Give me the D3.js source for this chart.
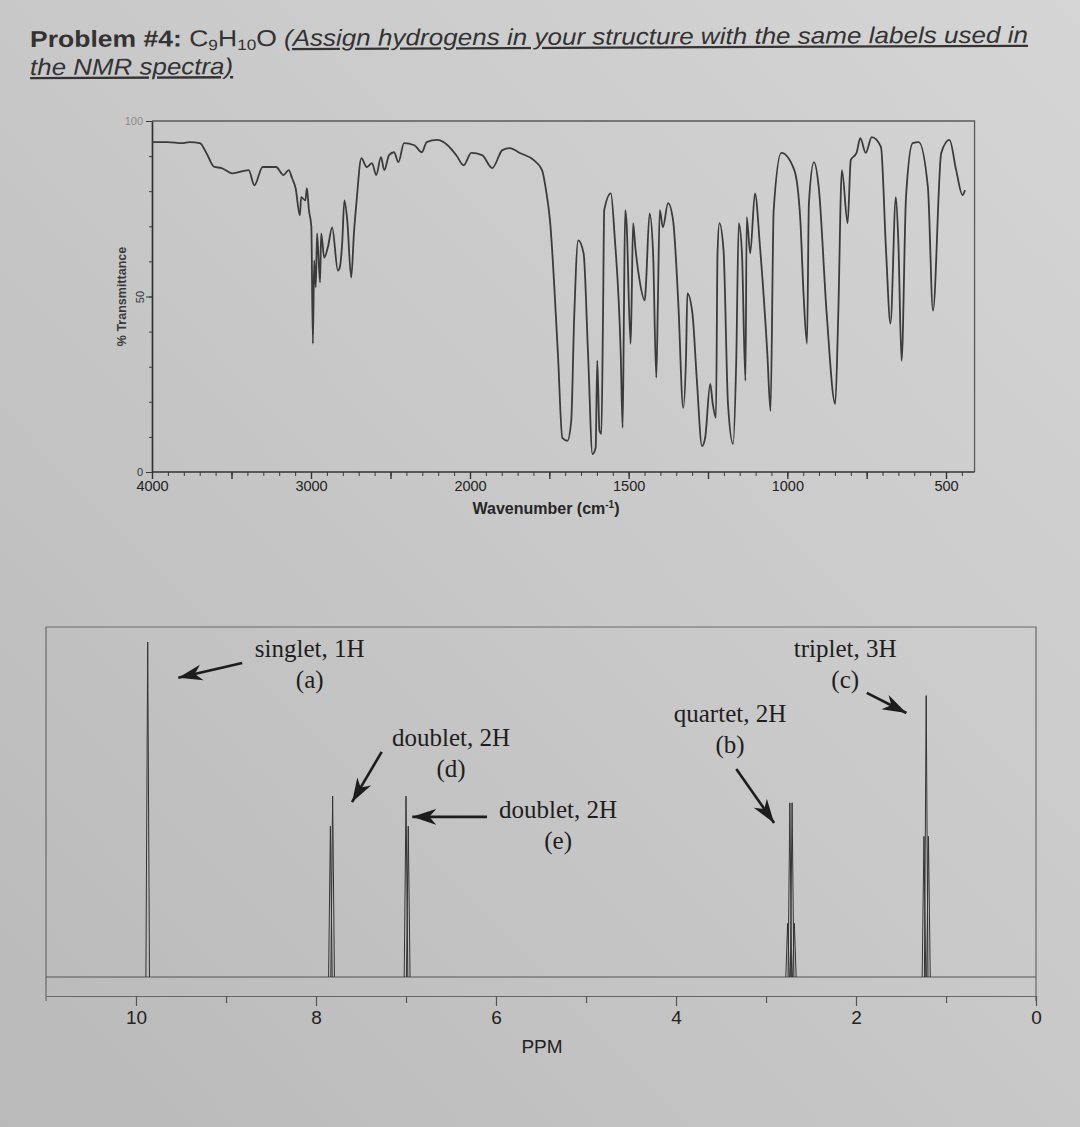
<!DOCTYPE html>
<html>
<head>
<meta charset="utf-8">
<script src="https://cdn.jsdelivr.net/npm/d3@7"></script>
<style>
  body { margin: 0; background: #c8c8c8; }
  svg { display: block; }
</style>
</head>
<body>
<svg id="page" width="1080" height="1127"></svg>
<script>
// IR spectrum: wavenumber (cm-1) and % transmittance
let irWavenumber = [
  4000, 3900, 3810, 3765, 3699, 3658, 3608, 3562, 3495, 3392, 3356, 3304, 3220, 3173, 3140, 3119,
  3097, 3070, 3062, 3035, 3026, 3013, 2998, 2988, 2980, 2970, 2962, 2943, 2936, 2917, 2894, 2867,
  2831, 2819, 2804, 2790, 2772, 2747, 2730, 2713, 2683, 2650, 2616, 2590, 2560, 2539, 2509, 2478,
  2450, 2415, 2350, 2303, 2272, 2208, 2141, 2087, 2040, 1996, 1962, 1930, 1898, 1875, 1843, 1800,
  1773, 1760, 1748, 1723, 1709, 1693, 1681, 1672, 1659, 1642, 1628, 1614, 1604, 1599, 1592, 1586,
  1581, 1577, 1556, 1544, 1525, 1519, 1515, 1511, 1507, 1494, 1491, 1486, 1479, 1467, 1449, 1446,
  1434, 1423, 1413, 1408, 1402, 1392, 1376, 1360, 1344, 1328, 1319, 1315, 1299, 1285, 1269, 1259,
  1243, 1235, 1225, 1220, 1214, 1201, 1187, 1171, 1161, 1153, 1143, 1132, 1128, 1117, 1102, 1086,
  1063, 1053, 1043, 1019, 978, 959, 949, 938, 932, 916, 901, 876, 849, 840, 828, 810,
  800, 782, 770, 753, 734, 705, 689, 675, 658, 650, 640, 626, 605, 586, 557, 541,
  515, 489, 468, 448, 440
];
let irTransmittance = [
  94, 94, 93.7, 94, 93.7, 90.9, 86.9, 86.6, 85.1, 86, 81.7, 86.9, 86.9, 84.6, 86, 83.7,
  80.9, 73.1, 78.3, 77.4, 80.9, 74.6, 70, 36.6, 60.3, 52.6, 68, 54, 68, 61.1, 64, 69.7,
  57.4, 58.3, 65.1, 77.4, 71.7, 55.4, 68, 77.4, 89.4, 86.9, 88, 84.6, 89.7, 86, 90.3, 91.1,
  88.3, 93.7, 93.1, 91.1, 94, 94.6, 93.1, 90.3, 87.4, 90.9, 90.3, 86.6, 91.7, 92.3, 90.9, 88.9,
  86, 80, 71.7, 33.7, 9.7, 8.9, 14.6, 43.1, 66, 62.3, 33.7, 5.1, 6.9, 31.7, 11.7, 10.9,
  43.1, 74.6, 79.4, 66.9, 33.7, 12.6, 45.1, 74.6, 71.7, 36.6, 46.9, 70.9, 64, 55.4, 48.9, 52.6,
  73.7, 62.3, 26.9, 48, 74.6, 69.7, 76.6, 71.7, 48.9, 18.3, 33.7, 50.9, 45.1, 26, 7.4, 9.7,
  25.1, 19.4, 15.4, 62.3, 70.9, 63.1, 19.4, 8, 31.7, 70.9, 62.3, 26, 72.6, 62.3, 79.4, 64,
  33.7, 17.4, 74.6, 90.9, 86, 71.7, 50.9, 36.6, 76.6, 88.3, 81.1, 45.1, 19.4, 43.1, 86, 70.9,
  88.9, 90.9, 95.1, 90.9, 95.4, 92.6, 63.1, 42.3, 78.3, 65.1, 31.7, 78.3, 93.7, 94, 81.1, 46,
  90.9, 94.6, 86, 78.9, 80.3
];
let irXTickLabels = [4000, 3000, 2000, 1500, 1000, 500];
let irYTickLabels = [0, 50, 100];

// 1H NMR lines: shift (ppm) and relative height
let nmrShift = [9.87, 7.84, 7.815, 7.0, 6.975, 2.76, 2.735, 2.71, 2.685, 1.245, 1.22, 1.195];
let nmrHeight = [100, 45, 54, 54, 45, 16, 52, 52, 16, 42, 84, 42];
let nmrTickLabels = [10, 8, 6, 4, 2, 0];

// peak annotations (anchor in ppm / height units)
let noteText = ["singlet, 1H", "doublet, 2H", "doublet, 2H", "quartet, 2H", "triplet, 3H"];
let noteLetter = ["(a)", "(d)", "(e)", "(b)", "(c)"];
let noteShift = [8.07, 6.5, 5.31, 3.4, 2.12];
let noteHeight = [95.5, 69, 47.5, 76.1, 95.5];
let arrowFrom = [[8.82, 93.7], [7.27, 67.2], [6.1, 47.8], [3.33, 62.1], [1.88, 84.8]];
let arrowTo = [[9.53, 89.3], [7.6, 52.2], [6.93, 47.8], [2.91, 46], [1.44, 78.8]];

let svg = d3.select("#page");

// paper background, lighter towards the top right
let defs = svg.append("defs");
let grad = defs.append("linearGradient").attr("id", "paper")
  .attr("x1", 0).attr("y1", 1).attr("x2", 1).attr("y2", 0);
grad.append("stop").attr("offset", "0%").attr("stop-color", "#b9b9b9");
grad.append("stop").attr("offset", "50%").attr("stop-color", "#c8c8c8");
grad.append("stop").attr("offset", "100%").attr("stop-color", "#d5d5d5");
svg.append("rect").attr("width", 1080).attr("height", 1127).attr("fill", "url(#paper)");

defs.append("marker").attr("id", "head")
  .attr("markerUnits", "userSpaceOnUse")
  .attr("viewBox", "-24 -9 26 18")
  .attr("markerWidth", 26).attr("markerHeight", 18)
  .attr("refX", 0).attr("refY", 0)
  .attr("orient", "auto")
  .append("path")
  .attr("d", "M0,0 L-24,-8 L-17,0 L-24,8 Z")
  .attr("fill", "#1c1c1c");

// ---- title ----
let title = svg.append("g")
  .attr("transform", "rotate(-0.25,30,47)")
  .attr("font-family", "'Liberation Sans', Arial, sans-serif")
  .attr("font-size", 23).attr("fill", "#333");
let t1 = title.append("text").attr("x", 30).attr("y", 47)
  .attr("textLength", 247).attr("lengthAdjust", "spacingAndGlyphs");
t1.append("tspan").attr("font-weight", "bold").text("Problem #4: ");
t1.append("tspan").text("C");
t1.append("tspan").attr("font-size", 15).attr("dy", 4).text("9");
t1.append("tspan").attr("dy", -4).text("H");
t1.append("tspan").attr("font-size", 15).attr("dy", 4).text("10");
t1.append("tspan").attr("dy", -4).text("O");
title.append("text").attr("x", 284).attr("y", 47)
  .attr("textLength", 744).attr("lengthAdjust", "spacingAndGlyphs")
  .attr("font-style", "italic").attr("text-decoration", "underline")
  .text("(Assign hydrogens in your structure with the same labels used in");
title.append("text").attr("x", 30).attr("y", 75)
  .attr("textLength", 203).attr("lengthAdjust", "spacingAndGlyphs")
  .attr("font-style", "italic").attr("text-decoration", "underline")
  .text("the NMR spectra)");

// ---- IR spectrum ----
let irX = d3.scaleLinear().domain([4000, 2000, 500]).range([152, 470, 946]);
let irY = d3.scaleLinear().domain([0, 100]).range([472, 121]);
let irRight = irX(410);

let ir = svg.append("g").attr("font-family", "'Liberation Sans', Arial, sans-serif");

ir.append("path")
  .attr("d", `M${irX(4000)},${irY(100)}H${irRight}V${irY(0)}`)
  .attr("fill", "none").attr("stroke", "#5a5a5a").attr("stroke-width", 1.3);

let irMinor = d3.range(4000, 2000, -100).concat(d3.range(2000, 440, -50));
let irMajor = d3.range(4000, 2000, -500).concat(d3.range(2000, 440, -250));

ir.append("g").attr("transform", `translate(0,${irY(0)})`)
  .call(d3.axisBottom(irX).tickValues(irMinor).tickSize(4).tickSizeOuter(0).tickFormat(""))
  .call(g => g.select(".domain").remove())
  .selectAll("line").attr("stroke", "#3a3a3a");

ir.append("g").attr("transform", `translate(0,${irY(0)})`)
  .call(d3.axisBottom(irX).tickValues(irMajor).tickSize(7).tickSizeOuter(0).tickPadding(2)
    .tickFormat(d => irXTickLabels.includes(d) ? d : ""))
  .call(g => g.select(".domain").attr("d", `M${irX(4000)},0H${irRight}`)
    .attr("stroke", "#333").attr("stroke-width", 1.7))
  .call(g => g.selectAll("line").attr("stroke", "#333").attr("stroke-width", 1.4))
  .call(g => g.selectAll("text").attr("font-size", 14.5).attr("fill", "#222")
    .attr("font-family", "'Liberation Sans', Arial, sans-serif"));

ir.append("g").attr("transform", `translate(${irX(4000)},0)`)
  .call(d3.axisLeft(irY).tickValues(d3.range(0, 101, 10)).tickSize(3).tickSizeOuter(0).tickFormat(""))
  .call(g => g.select(".domain").attr("stroke", "#333").attr("stroke-width", 1.7))
  .selectAll("line").attr("stroke", "#3a3a3a");

ir.append("g").attr("transform", `translate(${irX(4000)},0)`)
  .call(d3.axisLeft(irY).tickValues(irYTickLabels).tickSize(6).tickSizeOuter(0))
  .call(g => g.select(".domain").remove())
  .call(g => g.selectAll("line").attr("stroke", "#3a3a3a"))
  .call(g => g.selectAll("text").attr("font-size", 11).attr("fill", d => d === 100 ? "#8a8a8a" : "#333")
    .attr("font-family", "'Liberation Sans', Arial, sans-serif"))
  .call(g => g.selectAll(".tick").filter(d => d === 50).select("text")
    .attr("transform", "rotate(-90,-12,0)").attr("x", -12).attr("dy", "0.32em")
    .attr("text-anchor", "middle"));

ir.append("text")
  .attr("transform", `translate(126,${irY(50)}) rotate(-90)`)
  .attr("text-anchor", "middle").attr("font-size", 12.5).attr("font-weight", "bold")
  .attr("fill", "#3a3a3a").text("% Transmittance");

let wn = ir.append("text").attr("x", 546).attr("y", 514).attr("text-anchor", "middle")
  .attr("font-size", 16).attr("font-weight", "bold").attr("fill", "#262626");
wn.append("tspan").text("Wavenumber (cm");
wn.append("tspan").attr("font-size", 10).attr("dy", -6).text("-1");
wn.append("tspan").attr("dy", 6).text(")");

let irLine = d3.line()
  .x(i => irX(irWavenumber[i]))
  .y(i => irY(irTransmittance[i]))
  .curve(d3.curveMonotoneX);

ir.append("path")
  .attr("d", irLine(d3.range(irWavenumber.length)))
  .attr("fill", "none").attr("stroke", "#3b3b3b").attr("stroke-width", 1.8)
  .attr("stroke-linejoin", "round");

// ---- 1H NMR spectrum ----
let nmrX = d3.scaleLinear().domain([11, 0]).range([46, 1036]);
let nmrY = d3.scaleLinear().domain([0, 100]).range([977, 642]);
let nmrTop = 627;
let nmrAxisY = 996;

let nmr = svg.append("g");

nmr.append("path")
  .attr("d", `M${nmrX(11)},${nmrAxisY + 5}V${nmrTop}H${nmrX(0)}V${nmrAxisY + 5}`)
  .attr("fill", "none").attr("stroke", "#6a6a6a").attr("stroke-width", 1.2);

nmr.append("line")
  .attr("x1", nmrX(11)).attr("x2", nmrX(0))
  .attr("y1", nmrY(0)).attr("y2", nmrY(0))
  .attr("stroke", "#555").attr("stroke-width", 1.2);

nmr.append("g").attr("transform", `translate(0,${nmrAxisY})`)
  .call(d3.axisBottom(nmrX).tickValues(d3.range(0, 11)).tickSizeOuter(0).tickPadding(9)
    .tickFormat(d => nmrTickLabels.includes(d) ? d : ""))
  .call(g => g.select(".domain").attr("stroke", "#666").attr("stroke-width", 1.2))
  .call(g => g.selectAll("line").attr("stroke", "#555").attr("stroke-width", 1.2)
    .attr("y2", d => d % 2 === 0 ? 10 : 7))
  .call(g => g.selectAll("text").attr("font-size", 19).attr("fill", "#222")
    .attr("font-family", "'Liberation Sans', Arial, sans-serif"));

nmr.append("text").attr("x", 542).attr("y", 1053).attr("text-anchor", "middle")
  .attr("font-family", "'Liberation Sans', Arial, sans-serif")
  .attr("font-size", 19).attr("fill", "#222").text("PPM");

let spike = d3.line().x(d => nmrX(d[0])).y(d => nmrY(d[1]));
nmr.selectAll(".peak")
  .data(d3.range(nmrShift.length))
  .join("path")
  .attr("class", "peak")
  .attr("d", i => spike([[nmrShift[i] + 0.02, 0], [nmrShift[i], nmrHeight[i]], [nmrShift[i] - 0.02, 0]]))
  .attr("fill", "none").attr("stroke", "#333").attr("stroke-width", 1);

let notes = nmr.append("g").attr("font-family", "'Liberation Serif', 'Times New Roman', serif")
  .attr("font-size", 25).attr("fill", "#1e1e1e").attr("text-anchor", "middle");
noteText.forEach((s, i) => {
  notes.append("text").attr("x", nmrX(noteShift[i])).attr("y", nmrY(noteHeight[i])).text(s);
  notes.append("text").attr("x", nmrX(noteShift[i])).attr("y", nmrY(noteHeight[i]) + 31).text(noteLetter[i]);
  nmr.append("line")
    .attr("x1", nmrX(arrowFrom[i][0])).attr("y1", nmrY(arrowFrom[i][1]))
    .attr("x2", nmrX(arrowTo[i][0])).attr("y2", nmrY(arrowTo[i][1]))
    .attr("stroke", "#1c1c1c").attr("stroke-width", 2.6)
    .attr("marker-end", "url(#head)");
});
</script>
</body>
</html>
